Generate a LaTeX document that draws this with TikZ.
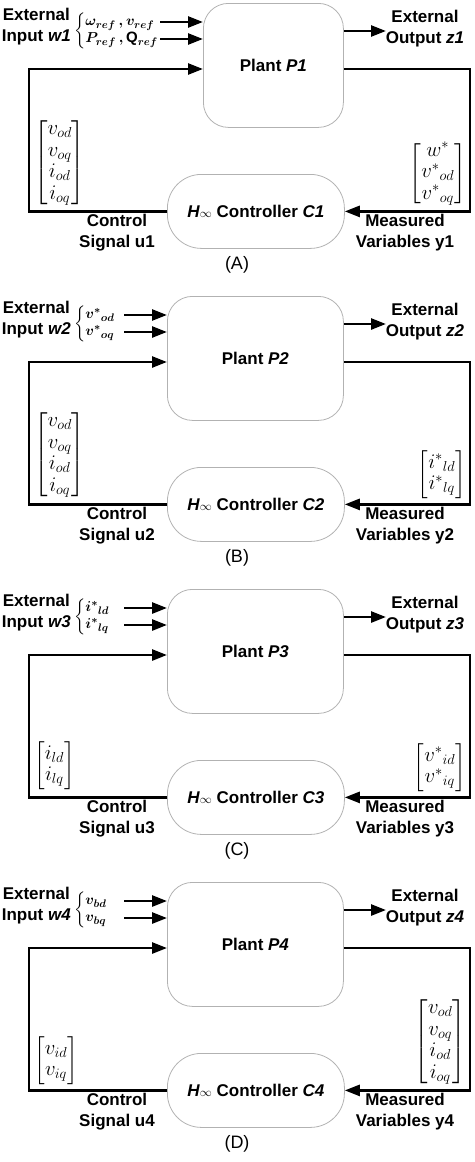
\documentclass[tikz,border=0pt]{standalone}
\usepackage{amsmath}
\usepackage{amssymb}
\usepackage{fontspec}
\setmainfont{Liberation Sans}
\usetikzlibrary{arrows.meta}

% Signals of each panel
\newcommand{\winpA}{\omega_{ref}\,, v_{ref}\\ P_{ref}\,, \mathrm{Q}_{ref}}
\newcommand{\lmatA}{v_{od}\\ v_{oq}\\ i_{od}\\ i_{oq}}
\newcommand{\rmatA}{w^{*}\\ v^{*}{}_{od}\\ v^{*}{}_{oq}}
\newcommand{\winpB}{v^{*}{}_{od}\\ v^{*}{}_{oq}}
\newcommand{\lmatB}{v_{od}\\ v_{oq}\\ i_{od}\\ i_{oq}}
\newcommand{\rmatB}{i^{*}{}_{ld}\\ i^{*}{}_{lq}}
\newcommand{\winpC}{i^{*}{}_{ld}\\ i^{*}{}_{lq}}
\newcommand{\lmatC}{i_{ld}\\ i_{lq}}
\newcommand{\rmatC}{v^{*}{}_{id}\\ v^{*}{}_{iq}}
\newcommand{\winpD}{v_{bd}\\ v_{bq}}
\newcommand{\lmatD}{v_{id}\\ v_{iq}}
\newcommand{\rmatD}{v_{od}\\ v_{oq}\\ i_{od}\\ i_{oq}}

\begin{document}
\begin{tikzpicture}[x=1pt,y=-1pt,
    block/.style={draw=gray!60, line width=0.8pt, font=\fontsize{17}{21}\selectfont\bfseries},
    sig/.style={line width=2.6pt, -{Triangle[length=15pt,width=11pt]}},
    lbl/.style={font=\fontsize{17}{21}\selectfont\bfseries, align=center, inner sep=0pt},
    vec/.style={font=\fontsize{20}{21.5}\selectfont, inner sep=0pt}]
    \useasboundingbox (0,0) rectangle (474,1162);
    \foreach \i/\pl/\ab/\lmy in {1/203/A/137,2/167/B/136,3/167/C/135,4/167/D/137} {
        % Height of the loop line and width of the plant
        \pgfmathsetmacro{\F}{69+293*(\i-1)}
        \pgfmathsetmacro{\pw}{343-\pl}
        % Blocks
        \node[block, rounded corners=25pt, minimum width=\pw pt, minimum height=124pt, anchor=north west] (plant\i) at (\pl,\F-66) {Plant \textit{P\i}};
        \node[block, rounded corners=34pt, minimum width=177pt, minimum height=74pt, anchor=north west] (ctrl\i) at (167,\F+105) {\textit{H}{\fontsize{13}{13}\selectfont$\infty$} Controller \textit{C\i}};
        % External input
        \node[lbl, anchor=east] (ext\i) at (71,\F-42) {External\\Input \textit{w\i}};
        \node[anchor=west, inner sep=0pt, font=\fontsize{15}{17}\selectfont] (win\i) at (74,\F-38) {{\boldmath$\left\{\begin{array}{@{}l@{}}\csname winp\ab\endcsname\end{array}\right.$}};
        \coordinate (ia\i) at (\pl-43,\F-47);
        \coordinate (ib\i) at (\pl-43,\F-30);
        \draw[sig] (ia\i) -- (ia\i -| plant\i.west);
        \draw[sig] (ib\i) -- (ib\i -| plant\i.west);
        % External output
        \coordinate (oz\i) at (386,\F-38);
        \draw[sig] (oz\i -| plant\i.east) -- (oz\i);
        \node[lbl] (out\i) at (425,\F-40) {External\\Output \textit{z\i}};
        % Feedback loop
        \coordinate (lft\i) at (29,\F);
        \coordinate (rgt\i) at (470,\F);
        \draw[sig] (ctrl\i.west) -| (lft\i) -- (lft\i -| plant\i.west);
        \draw[sig] (rgt\i -| plant\i.east) -- (rgt\i) |- (ctrl\i.east);
        \node[vec, anchor=south west] (lv\i) at (34,\F+\lmy) {$\begin{bmatrix}\csname lmat\ab\endcsname\end{bmatrix}$};
        \node[vec, anchor=south east] (rv\i) at (466,\F+137) {$\begin{bmatrix}\csname rmat\ab\endcsname\end{bmatrix}$};
        \node[lbl] (us\i) at (117,\F+164) {Control\\Signal u\i};
        \node[lbl] (ym\i) at (405,\F+164) {Measured\\Variables y\i};
        \node[font=\fontsize{18}{22}\selectfont] (tag\i) at (237,\F+196) {(\ab)};
    }
\end{tikzpicture}
\end{document}
